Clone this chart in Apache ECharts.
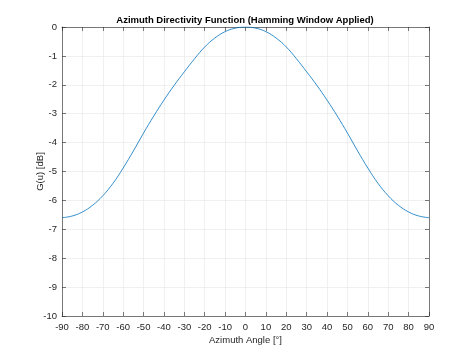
<!DOCTYPE html>
<html>
<head>
<meta charset="utf-8">
<script src="https://cdn.jsdelivr.net/npm/echarts@6/dist/echarts.min.js"></script>
<style>
  html, body { margin: 0; padding: 0; background: #fff; }
  #chart { width: 474px; height: 355px; }
</style>
</head>
<body>
<div id="chart"></div>
<script>
// azimuth angles (deg) and gain
var angles = [-90, -85, -80, -75, -70, -65, -60, -55, -50, -45, -40, -35, -30, -25, -20, -15, -10, -5, 0,
              5, 10, 15, 20, 25, 30, 35, 40, 45, 50, 55, 60, 65, 70, 75, 80, 85, 90];
var gainDb = [-6.60, -6.54, -6.40, -6.17, -5.84, -5.41, -4.88, -4.29, -3.67, -3.08, -2.53, -2.02, -1.55, -1.10, -0.69, -0.38, -0.16, -0.04, 0,
              -0.04, -0.16, -0.38, -0.69, -1.10, -1.55, -2.02, -2.53, -3.08, -3.67, -4.29, -4.88, -5.41, -5.84, -6.17, -6.40, -6.54, -6.60];
var xTicks = { min: -90, max: 90, step: 10 };
var yTicks = { min: -10, max: 0, step: 1 };

var points = angles.map(function (a, i) { return [a, gainDb[i]]; });

var txt = '#262626';
var font = 'Helvetica, Arial, "Liberation Sans", sans-serif';
var axisLine = { show: true, onZero: false, lineStyle: { color: '#262626', width: 0.6 } };
var tick = { show: true, inside: true, length: 4, lineStyle: { color: '#262626', width: 0.6 } };
var grid = { show: true, lineStyle: { color: '#e6e6e6', width: 0.6 } };

var myChart = echarts.init(document.getElementById('chart'));
myChart.setOption({
  animation: false,
  title: {
    text: 'Azimuth Directivity Function (Hamming Window Applied)',
    left: 245, top: 15, textAlign: 'center', padding: 0,
    textStyle: { fontFamily: font, fontSize: 9.5, fontWeight: 'bold', color: '#000' }
  },
  grid: { left: 62, right: 45, top: 27, bottom: 39 },
  xAxis: [{
    type: 'value', min: xTicks.min, max: xTicks.max, interval: xTicks.step,
    name: 'Azimuth Angle [°]', nameLocation: 'middle', nameGap: 19, nameMoveOverlap: false,
    nameTextStyle: { fontFamily: font, fontSize: 9.5, color: txt },
    axisLine: axisLine, axisTick: tick,
    axisLabel: { fontFamily: font, fontSize: 9.5, color: txt, margin: 6 },
    splitLine: grid
  }, {
    type: 'value', min: xTicks.min, max: xTicks.max, interval: xTicks.step, position: 'top',
    axisLine: axisLine, axisTick: tick, axisLabel: { show: false }, splitLine: { show: false }
  }],
  yAxis: [{
    type: 'value', min: yTicks.min, max: yTicks.max, interval: yTicks.step,
    name: 'G(u) [dB]', nameLocation: 'middle', nameGap: 17, nameMoveOverlap: false,
    nameTextStyle: { fontFamily: font, fontSize: 9.5, color: txt },
    axisLine: axisLine, axisTick: tick,
    axisLabel: { fontFamily: font, fontSize: 9.5, color: txt, margin: 5 },
    splitLine: grid
  }, {
    type: 'value', min: yTicks.min, max: yTicks.max, interval: yTicks.step, position: 'right',
    axisLine: axisLine, axisTick: tick, axisLabel: { show: false }, splitLine: { show: false }
  }],
  series: [{
    type: 'line', data: points, smooth: 0.4, showSymbol: false,
    lineStyle: { color: '#0072BD', width: 0.8 }
  }]
});
</script>
</body>
</html>
